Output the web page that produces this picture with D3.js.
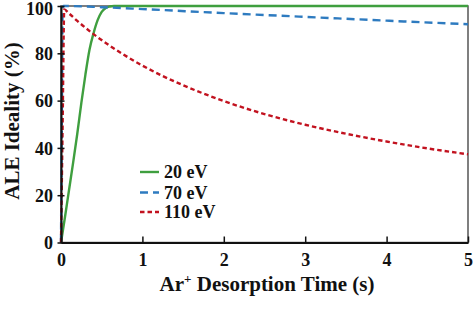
<!DOCTYPE html>
<html>
<head>
<meta charset="utf-8">
<script src="https://cdn.jsdelivr.net/npm/d3@7/dist/d3.min.js"></script>
<style>
  html, body { margin: 0; padding: 0; background: #fff; }
  svg { display: block; }
  text { font-family: "Liberation Serif", "Times New Roman", serif; font-weight: bold; fill: #111; }
</style>
</head>
<body>
<svg id="chart" width="474" height="325"></svg>
<script>
// ---- data ----
const xTicks = [0, 1, 2, 3, 4, 5];
const yTicks = [0, 20, 40, 60, 80, 100];

const times20 = [0, 0.05, 0.1, 0.15, 0.2, 0.25, 0.3, 0.35, 0.4, 0.45, 0.5, 0.55, 0.6, 0.65, 1, 2, 3, 4, 5];
const ideal20 = [0, 11, 22.5, 34, 46, 59, 71, 81.5, 88.5, 94, 97.5, 99.2, 99.8, 100, 100, 100, 100, 100, 100];

const times70 = [0, 0.01, 0.02, 0.03, 0.5, 1, 2, 3, 4, 5];
const ideal70 = [0, 50, 98, 100, 99.5, 98.7, 97, 95.4, 93.8, 92.3];

const times110 = [0, 0.02, 0.04, 0.1, 0.2, 0.4, 0.6, 0.8, 1, 1.25, 1.5, 1.75, 2, 2.5, 3, 3.5, 4, 4.5, 5];
const ideal110 = [0, 50, 98.5, 96.8, 93.7, 88.1, 83.2, 78.8, 74.8, 70.4, 66.5, 63, 59.8, 54.3, 49.8, 46, 42.7, 39.8, 37.3];

const seriesNames = ["20 eV", "70 eV", "110 eV"];
const seriesColors = ["#3f9f3f", "#2e7bc0", "#c2121f"];
const seriesDash = [null, "8,5", "4.5,3"];

// ---- layout ----
const svg = d3.select("#chart");
const L = 61, R = 468, T = 6, B = 242.5;
const x = d3.scaleLinear().domain([0, 5]).range([L, R]);
const y = d3.scaleLinear().domain([0, 100]).range([B, T]);

// frame
svg.append("rect").attr("x", L).attr("y", T).attr("width", R - L).attr("height", B - T)
  .attr("fill", "none").attr("stroke", "#555").attr("stroke-width", 1.5);

// curves
const line = d3.line().x(d => x(d[0])).y(d => y(d[1])).curve(d3.curveMonotoneX);
const series = [
  d3.zip(times20, ideal20),
  d3.zip(times70, ideal70),
  d3.zip(times110, ideal110)
];
series.forEach((s, i) => {
  svg.append("path").datum(s).attr("d", line)
    .attr("fill", "none").attr("stroke", seriesColors[i]).attr("stroke-width", 2.4)
    .attr("stroke-dasharray", seriesDash[i]);
});

// axes
const xAxis = d3.axisBottom(x).tickValues(xTicks).tickSizeInner(-6).tickSizeOuter(0).tickPadding(10).tickFormat(d3.format("d"));
const gx = svg.append("g").attr("transform", `translate(0,${B})`).call(xAxis);
gx.select(".domain").attr("stroke", "#111").attr("stroke-width", 2);
gx.selectAll(".tick line").attr("stroke", "#111").attr("stroke-width", 1.5);
gx.selectAll(".tick text").attr("font-size", 18).attr("dy", "0.72em").attr("y", 11);

const yAxis = d3.axisLeft(y).tickValues(yTicks).tickSizeInner(3.5).tickSizeOuter(0).tickPadding(5).tickFormat(d3.format("d"));
const gy = svg.append("g").attr("transform", `translate(${L},0)`).call(yAxis);
gy.select(".domain").attr("stroke", "#111").attr("stroke-width", 2);
gy.selectAll(".tick line").attr("x1", 3.5).attr("x2", -3.5).attr("stroke", "#111").attr("stroke-width", 1.5);
gy.selectAll(".tick text").attr("font-size", 18).attr("x", -8).attr("dy", d => d === 100 ? "0.45em" : "0.35em");
svg.selectAll(".tick text").style("font-family", '"Liberation Serif", "Times New Roman", serif').style("font-weight", "bold").attr("fill", "#111");

// axis titles
const xt = svg.append("text").attr("x", 267).attr("y", 291).attr("text-anchor", "middle").attr("font-size", 21);
xt.append("tspan").text("Ar");
xt.append("tspan").text("+").attr("font-size", 13).attr("dy", -8);
xt.append("tspan").text(" Desorption Time (s)").attr("dy", 8);

svg.append("text").attr("transform", "translate(19,121) rotate(-90)").attr("text-anchor", "middle")
  .attr("font-size", 21).text("ALE Ideality (%)");

// legend
const legY = [172, 192.5, 212];
seriesNames.forEach((name, i) => {
  svg.append("line").attr("x1", 140).attr("x2", 159).attr("y1", legY[i]).attr("y2", legY[i])
    .attr("stroke", seriesColors[i]).attr("stroke-width", 2.4).attr("stroke-dasharray", seriesDash[i]);
  svg.append("text").attr("x", 164).attr("y", legY[i] + 6).attr("font-size", 18).text(name);
});
</script>
</body>
</html>
